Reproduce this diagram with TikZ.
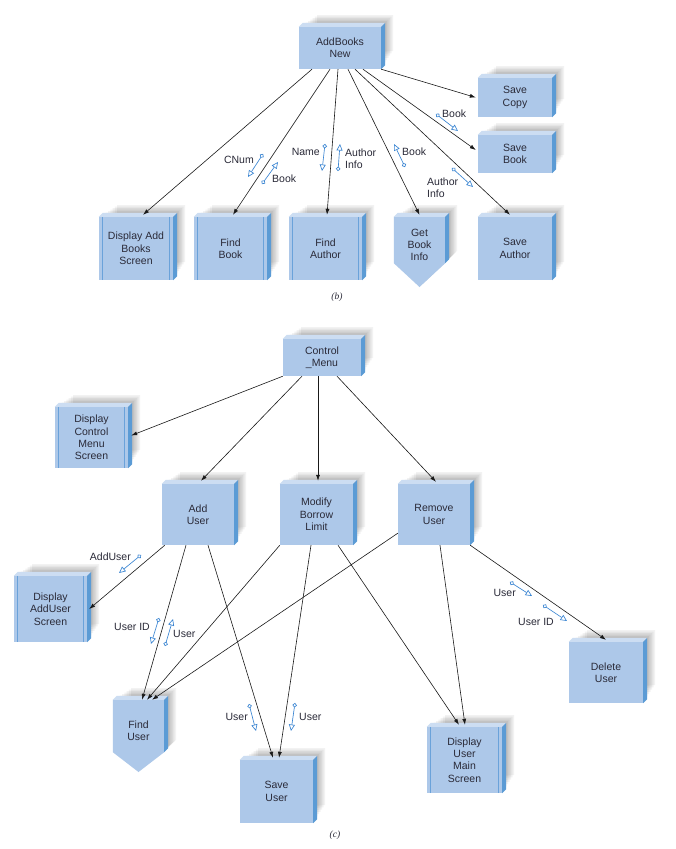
\documentclass[tikz,border=0pt]{standalone}
\usepackage{fontspec}
\setmainfont{Liberation Sans}
\newfontfamily\capfont{Liberation Serif}
\usetikzlibrary{arrows.meta}
\definecolor{frontc}{HTML}{ADC8E9}
\definecolor{topc}{HTML}{CCDDF2}
\definecolor{sidec}{HTML}{5B9BD5}
\definecolor{linec}{HTML}{6AA2DA}
\definecolor{txtc}{HTML}{2A2A38}
\definecolor{cplc}{HTML}{3A85D2}
\tikzset{
  boxfont/.style={font=\fontsize{10.5}{12.3}\selectfont},
  front/.style={fill=frontc, draw=none, inner sep=0pt, text=txtc, align=center, boxfont},
  ghost/.style={draw=none, fill=none, inner sep=0pt},
  btext/.style={inner sep=0pt, text=txtc, align=center, boxfont},
  topface/.style={fill=topc},
  sideface/.style={fill=sidec},
  shadowlayer/.style={fill=black, fill opacity=0.05, draw=none},
  predef/.style={draw=linec, line width=0.8pt},
  conn/.style={draw=black!90, line width=0.6pt, -{Latex[length=6pt,width=4pt]}},
  cpl/.style={draw=cplc, line width=0.65pt, {Circle[open,length=4.4pt,width=4.4pt,fill=white]}-{Triangle[open,length=6.5pt,width=6pt,fill=white]}},
  lbl/.style={text=txtc, inner sep=0pt, align=left, boxfont},
  capt/.style={font=\capfont\itshape\fontsize{9.5}{11}\selectfont, text=txtc, inner sep=0pt}
}
% name, x1, y1, x2, y2, text
\newcommand\modbox[6]{%
  \foreach \k in {1.5,3,...,12}{%
    \fill[shadowlayer, shift={(\k,-\k)}] (#2+\k*0.5,#5) -- (#2+\k*0.5,#3) -- (#4,#3) -- (#4,#5-\k*0.5) -- cycle;
  }
  \node[front, minimum width={#4-#2}, minimum height={#5-#3}] (#1) at ({(#2+#4)/2},{(#3+#5)/2}) {#6};
  \fill[topface] (#1.north west) -- ++(4,-4) -- ([shift={(4,-4)}]#1.north east) -- (#1.north east) -- cycle;
  \fill[sideface] (#1.north east) -- ++(4,-4) -- ([shift={(4,-4)}]#1.south east) -- (#1.south east) -- cycle;
}
\newcommand\predeflines[1]{%
  \draw[predef] ([xshift=4pt]#1.north west) -- ([xshift=4pt]#1.south west);
  \draw[predef] ([xshift=-4pt]#1.north east) -- ([xshift=-4pt]#1.south east);
}
% name, x1, y1, x2, y2, ytip, text
\newcommand\pentbox[7]{%
  \foreach \k in {1.5,3,...,12}{%
    \fill[shadowlayer, shift={(\k,-\k)}] (#2+\k*0.5,#5) -- (#2+\k*0.5,#3) -- (#4,#3) -- (#4,#5) -- ({(#2+#4)/2},#6) -- cycle;
  }
  \node[ghost, minimum width={#4-#2}, minimum height={#5-#3}] (#1) at ({(#2+#4)/2},{(#3+#5)/2}) {};
  \coordinate (#1-tip) at ({(#2+#4)/2},#6);
  \fill[frontc] (#1.north west) -- (#1.north east) -- (#1.south east) -- (#1-tip) -- (#1.south west) -- cycle;
  \fill[topface] (#1.north west) -- ++(4,-4) -- ([shift={(4,-4)}]#1.north east) -- (#1.north east) -- cycle;
  \fill[sideface] (#1.north east) -- ++(4,-4) -- ([shift={(4,-4)}]#1.south east) -- (#1.south east) -- cycle;
  \node[btext] (#1-t) at ([yshift=-5pt]#1.center) {#7};
}
\newcommand\couple[3]{%
  \coordinate (#1-a) at (#2);
  \coordinate (#1-b) at (#3);
  \draw[cpl] (#1-a) -- (#1-b);
}
\begin{document}
\begin{tikzpicture}[x=1pt,y=-1pt]
\useasboundingbox[fill=white] (0,0) rectangle (675,849);

% ---------------- (b) ----------------
\modbox{abn}{299}{27}{381}{69}{AddBooks\\New}
\modbox{sc}{478}{78}{552}{117}{Save\\Copy}
\modbox{sb}{478}{135}{552}{173}{Save\\Book}
\modbox{dab}{99}{217}{173}{280}{Display Add\\Books\\Screen}
\predeflines{dab}
\modbox{fb}{194}{217}{267}{280}{Find\\Book}
\predeflines{fb}
\modbox{fa}{289}{217}{362}{280}{Find\\Author}
\predeflines{fa}
\pentbox{gbi}{394}{217}{445}{263}{287}{Get\\Book\\Info}
\modbox{sa}{478}{217}{552}{280}{Save\\Author}

\draw[conn] ([xshift=-28pt]abn.south) -- ([xshift=7pt,yshift=2pt]dab.north);
\draw[conn] ([xshift=-10pt]abn.south) -- ([xshift=2.5pt,yshift=2pt]fb.north);
\draw[conn] ([xshift=-2pt]abn.south) -- ([xshift=1.5pt,yshift=2pt]fa.north);
\draw[conn] ([xshift=8pt]abn.south) -- ([yshift=2pt]gbi.north);
\draw[conn] ([xshift=15pt]abn.south) -- ([xshift=-5pt,yshift=2pt]sa.north);
\draw[conn] ([xshift=23pt]abn.south) -- ([xshift=-2pt,yshift=4pt]sb.west);
\draw[conn] (abn.south east) -- ([xshift=-2pt]sc.west);

\couple{c1}{263,154}{248,177}
\node[lbl, anchor=east] (l1) at (254,160) {CNum};
\couple{c2}{262,184}{278,162}
\node[lbl, anchor=west] (l2) at (272,179) {Book};
\couple{c3}{325,144}{322,171}
\node[lbl, anchor=east] (l3) at (320,152) {Name};
\couple{c4}{338,171}{340,144}
\node[lbl, anchor=west] (l4) at (345,158.5) {Author\\Info};
\couple{c5}{405,167}{394,144}
\node[lbl, anchor=west] (l5) at (402,152) {Book};
\couple{c6}{452,168}{473,187}
\node[lbl, anchor=west] (l6) at (427,188) {Author\\Info};
\couple{c7}{436,114}{458,131}
\node[lbl, anchor=west] (l7) at (442,114) {Book};

\node[capt] (capb) at (337,297) {(b)};

% ---------------- (c) ----------------
\modbox{cm}{283}{339}{361}{376}{Control\\\_Menu}
\modbox{dcms}{55}{407}{128}{468}{Display\\Control\\Menu\\Screen}
\predeflines{dcms}
\modbox{au}{162}{484}{234}{545}{Add\\User}
\modbox{mbl}{280}{484}{353}{545}{Modify\\Borrow\\Limit}
\modbox{ru}{398}{484}{470}{545}{Remove\\User}
\modbox{daus}{14}{576}{87}{642}{Display\\AddUser\\Screen}
\predeflines{daus}
\pentbox{fu}{113}{700}{164}{752}{772}{Find\\User}
\modbox{su}{240}{760}{313}{823}{Save\\User}
\modbox{dum}{427}{727}{502}{793}{Display\\User\\Main\\Screen}
\predeflines{dum}
\modbox{du}{569}{642}{643}{703}{Delete\\User}

\draw[conn] (cm.south west) -- ([xshift=3pt,yshift=2pt]dcms.east);
\draw[conn] ([xshift=-20pt]cm.south) -- ([xshift=3pt,yshift=3pt]au.north);
\draw[conn] ([xshift=-4pt]cm.south) -- ([xshift=1.5pt,yshift=3pt]mbl.north);
\draw[conn] ([xshift=15pt]cm.south) -- ([xshift=2pt,yshift=2pt]ru.north);

\draw[conn] ([xshift=3pt]au.south west) -- ([xshift=2pt]daus.east);
\draw[conn] ([xshift=-12pt]au.south) -- ([xshift=3.5pt]fu.north);
\draw[conn] ([xshift=10pt]au.south) -- ([xshift=-3.5pt,yshift=2pt]su.north);
\draw[conn] (mbl.south west) -- ([xshift=8.5pt]fu.north);
\draw[conn] ([xshift=-5.5pt]mbl.south) -- ([xshift=2.5pt,yshift=2pt]su.north);
\draw[conn] ([xshift=21.5pt]mbl.south) -- ([xshift=-5.5pt,yshift=2pt]dum.north);
\draw[conn] ([yshift=12pt]ru.south west) -- ([xshift=13.5pt]fu.north);
\draw[conn] ([xshift=6pt]ru.south) -- ([xshift=0.5pt,yshift=2pt]dum.north);
\draw[conn] (ru.south east) -- ([yshift=2pt]du.north);

\couple{d1}{141,555}{119,573}
\node[lbl, anchor=east] (m1) at (131,557) {AddUser};
\couple{d2}{159,618}{151,644}
\node[lbl, anchor=east] (m2) at (150,627) {User ID};
\couple{d3}{165,646}{173,619}
\node[lbl, anchor=west] (m3) at (173,634) {User};
\couple{d4}{249,704}{256,731}
\node[lbl, anchor=east] (m4) at (248,717) {User};
\couple{d5}{295,703}{291,731}
\node[lbl, anchor=west] (m5) at (299,717) {User};
\couple{d6}{510,582}{532,596}
\node[lbl, anchor=east] (m6) at (516,593) {User};
\couple{d7}{543,605}{567,621}
\node[lbl, anchor=east] (m7) at (554,622) {User ID};

\node[capt] (capc) at (335,835) {(c)};
\end{tikzpicture}
\end{document}
